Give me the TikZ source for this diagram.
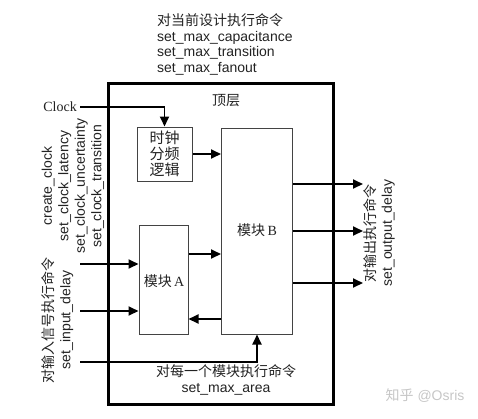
\documentclass[tikz,border=0pt]{standalone}
\usepackage{fontspec}
\setmainfont{Liberation Sans}
\newfontfamily\cjk{Noto Sans CJK SC}
\newfontfamily\serifLat{Liberation Serif}
\usetikzlibrary{arrows.meta}
\definecolor{ink}{HTML}{222222}
\tikzset{
  txt/.style={text=ink,font=\fontsize{14}{16.5}\selectfont,inner sep=0pt},
  blk/.style={draw=ink!85,line width=1pt,inner sep=0pt},
  arr/.style={draw=black,line width=1.8pt,-{Triangle[length=10pt,width=9pt]}},
  wire/.style={draw=black,line width=1.8pt}
}
\begin{document}
\begin{tikzpicture}[x=1pt,y=-1pt]
\useasboundingbox (0,0) rectangle (478,418);
% outer top-level box
\node[draw=black,line width=3pt,minimum width=225pt,minimum height=321pt,inner sep=0pt] (top) at (220.5,243.5) {};
\node[txt] (toplbl) at (226,101) {\cjk 顶层};
% inner blocks
\node[blk,minimum width=55pt,minimum height=54pt] (clk) at (164.5,154) {};
\node[txt,align=center,font=\fontsize{15}{16}\selectfont] (clklbl) at (164.5,154) {\cjk 时钟\\\cjk 分频\\\cjk 逻辑};
\node[blk,minimum width=71pt,minimum height=206pt] (B) at (257,231) {};
\node[txt] (Blbl) at (257,230) {{\cjk 模块}\,{\serifLat B}};
\node[blk,minimum width=49pt,minimum height=109pt] (A) at (163.5,279.5) {};
\node[txt] (Albl) at (164,281) {{\cjk 模块}\,{\serifLat A}};
% top text
\node[txt,anchor=west,align=left,font=\fontsize{14}{15.7}\selectfont] (topcmd) at (157,44.5)
  {{\cjk 对当前设计执行命令}\\set\_max\_capacitance\\set\_max\_transition\\set\_max\_fanout};
% clock
\node[txt,anchor=east,font=\serifLat\fontsize{14}{16}\selectfont] (clock) at (77,107) {Clock};
\coordinate (clkin) at (80,107);
\draw[arr] (clkin) -| (clk.north);
\node[txt,rotate=90,align=center] (clkcmd) at (73,186)
  {create\_clock\\set\_clock\_latency\\set\_clock\_uncertainty\\set\_clock\_transition};
% clock divider to B
\draw[arr] (clk.east) -- (clk.east -| B.west);
% inputs
\coordinate (inA1) at (80,264);
\coordinate (inA2) at (80,311);
\coordinate (inB) at (80,362);
\draw[arr] (inA1) -- (inA1 -| A.west);
\draw[arr] (inA2) -- (inA2 -| A.west);
\draw[arr] (inB) -| (B.south);
\node[txt,rotate=90,align=center] (incmd) at (57.5,320)
  {{\cjk 对输入信号执行命令}\\set\_input\_delay};
% A <-> B
\coordinate (ab) at (0,254);
\coordinate (ba) at (0,319);
\draw[arr] (ab -| A.east) -- (ab -| B.west);
\draw[arr] (ba -| B.west) -- (ba -| A.east);
% outputs
\coordinate (o1) at (363,184);
\coordinate (o2) at (363,231);
\coordinate (o3) at (363,283);
\draw[arr] (o1 -| B.east) -- (o1);
\draw[arr] (o2 -| B.east) -- (o2);
\draw[arr] (o3 -| B.east) -- (o3);
\node[txt,rotate=90,align=center] (outcmd) at (379,233)
  {{\cjk 对输出执行命令}\\set\_output\_delay};
% bottom text
\node[txt,align=center,font=\fontsize{14}{15.5}\selectfont] (botcmd) at (226,380)
  {{\cjk 对每一个模块执行命令}\\set\_max\_area};
% watermark
\node[txt,text=gray!45,font=\fontsize{14}{16}\selectfont] (wm) at (425,396) {{\cjk 知乎} @Osris};
\end{tikzpicture}
\end{document}
